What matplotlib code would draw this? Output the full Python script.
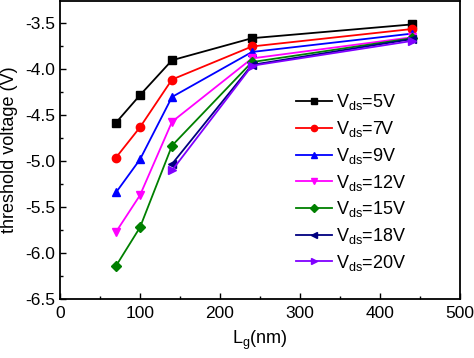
import matplotlib
matplotlib.use("Agg")
import matplotlib.pyplot as plt
from matplotlib.ticker import MultipleLocator

plt.rcParams['font.family'] = ['Liberation Sans', 'DejaVu Sans']
plt.rcParams['mathtext.fontset'] = 'custom'
plt.rcParams['mathtext.rm'] = 'Liberation Sans'
plt.rcParams['mathtext.it'] = 'Liberation Sans'
plt.rcParams['mathtext.default'] = 'regular'

lg_full = [70, 100, 140, 240, 440]
lg_short = [140, 240, 440]

v5 = [-4.58, -4.28, -3.90, -3.66, -3.51]
v7 = [-4.96, -4.63, -4.11, -3.75, -3.56]
v9 = [-5.34, -4.98, -4.30, -3.81, -3.61]
v12 = [-5.77, -5.37, -4.57, -3.88, -3.65]
v15 = [-6.14, -5.72, -4.83, -3.92, -3.66]
v18 = [-5.03, -3.95, -3.67]
v20 = [-5.10, -3.96, -3.69]

labels = ['5V', '7V', '9V', '12V', '15V', '18V', '20V']
series = [(lg_full, v5, 'black', 's'),
          (lg_full, v7, 'red', 'o'),
          (lg_full, v9, '#0000ff', '^'),
          (lg_full, v12, '#ff00ff', 'v'),
          (lg_full, v15, '#008000', 'D'),
          (lg_short, v18, '#000080', '<'),
          (lg_short, v20, '#8000ff', '>')]

fig = plt.figure(figsize=(4.74, 3.58), dpi=100)
ax = fig.add_axes([60/474, 1-299/358, 400/474, 298/358])

for (x, y, c, m), lab in zip(series, labels):
    ms = 5 if m == 'D' else 6
    ax.plot(x, y, color=c, marker=m, markersize=ms, linewidth=1.3,
            label=r'V$_{\mathrm{ds}}$=' + lab)

ax.set_xlim(0, 500)
ax.set_ylim(-6.5, -3.255)
ax.xaxis.set_major_locator(MultipleLocator(100))
ax.xaxis.set_minor_locator(MultipleLocator(50))
ax.yaxis.set_major_locator(MultipleLocator(0.5))
ax.yaxis.set_minor_locator(MultipleLocator(0.25))
ax.yaxis.set_major_formatter(plt.FuncFormatter(lambda v, p: f'{v:.1f}'))
ax.tick_params(which='both', direction='in', top=False, right=False, labelsize=12.5)
ax.tick_params(axis='x', pad=5)
ax.tick_params(which='major', length=4, width=1)
ax.tick_params(which='minor', length=2.5, width=1)
for s in ax.spines.values():
    s.set_linewidth(1.3)

ax.set_xlabel(r'L$_{\mathrm{g}}$(nm)', fontsize=13, labelpad=6)
ax.set_ylabel('threshold voltage (V)', fontsize=13, labelpad=5)

leg = ax.legend(loc='upper left', bbox_to_anchor=(0.59, 0.693), frameon=False,
                fontsize=13, handlelength=2.0, labelspacing=0.37, handletextpad=0.2,
                borderpad=0, borderaxespad=0, markerscale=0.75)

fig.savefig('out.png', dpi=100)
